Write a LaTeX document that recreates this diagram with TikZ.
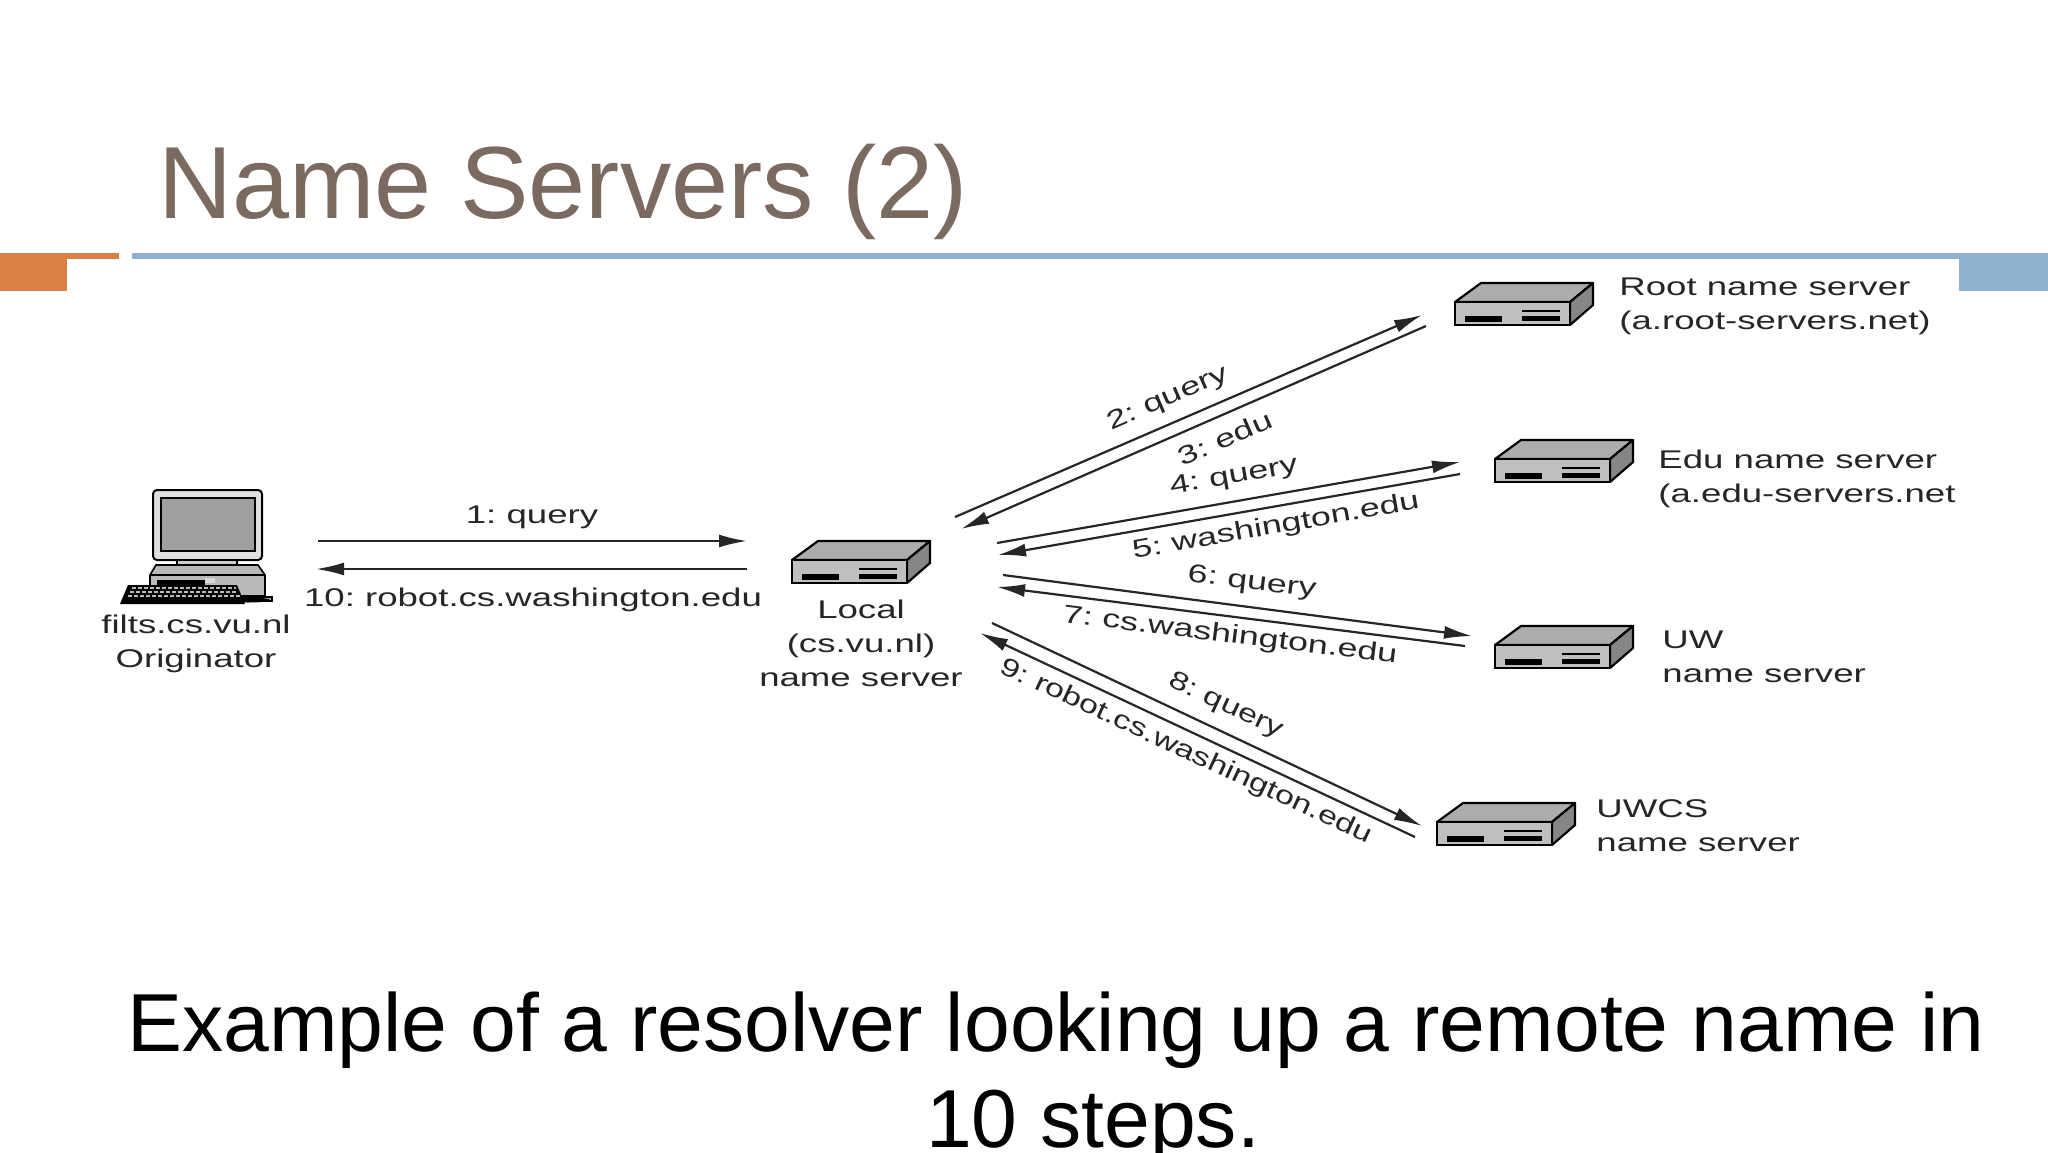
\documentclass[tikz,border=0pt]{standalone}
\usepackage{graphicx}
\usepackage{fontspec}
\setmainfont{Liberation Sans}
\usetikzlibrary{arrows.meta}
\definecolor{titlec}{HTML}{7B6A60}
\definecolor{orangeb}{HTML}{DB8148}
\definecolor{blueb}{HTML}{8FB1D0}
\definecolor{ink}{HTML}{262626}
\newcommand{\wideT}[1]{\scalebox{1.43}[1]{#1}}
\newcommand{\wideR}[1]{\scalebox{1.40}[1]{#1}}
\newcommand{\wideS}[1]{\scalebox{1.33}[1]{#1}}
\frenchspacing
\tikzset{
  server/.pic={
    \fill[gray!65!white,draw=black,line width=1.1pt,line join=round] (0,0) -- (26,-19) -- (138,-19) -- (115,0) -- cycle;
    \fill[gray!95!white,draw=black,line width=1.1pt,line join=round] (115,0) -- (138,-19) -- (138,3) -- (115,23) -- cycle;
    \fill[gray!50!white,draw=black,line width=1.4pt] (0,0) rectangle (115,23);
    \fill[black] (10,13.5) rectangle (47,19.5);
    \fill[black] (67,7.5) rectangle (105,10);
    \fill[black] (67,13.5) rectangle (105,18.5);
  },
  lbl/.style={font=\fontsize{12.8}{17}\selectfont,text=ink,inner sep=0pt,align=left},
  ctr/.style={font=\fontsize{12.8}{17}\selectfont,text=ink,inner sep=0pt,align=center},
  msg/.style={draw=ink,line width=1.1pt,-{Latex[length=14pt,width=6.5pt]}}
}
\begin{document}
\begin{tikzpicture}[x=0.5pt,y=-0.5pt]
\useasboundingbox (0,0) rectangle (2048,1152);
\clip (0,0) rectangle (2048,1152);
\fill[white] (0,0) rectangle (2048,1152);
% slide furniture
\fill[orangeb] (0,253) rectangle (119,259);
\fill[orangeb] (0,253) rectangle (67,291);
\fill[blueb] (132,253) rectangle (2048,259);
\fill[blueb] (1959,253) rectangle (2048,291);
\node[anchor=base west,inner sep=0pt,text=titlec,font=\fontsize{51.3}{60}\selectfont] (title) at (158,218) {Name Servers (2)};
\node[anchor=base,inner sep=0pt,text=black,font=\fontsize{41.15}{48}\selectfont] (body1) at (1056,1051) {Example of a resolver looking up a remote name in};
\node[anchor=base,inner sep=0pt,text=black,font=\fontsize{41.15}{48}\selectfont] (body2) at (1093,1147) {10 steps.};
% computer
\fill[gray!25!white,draw=black,line width=1pt,rounded corners=2pt] (153,490) rectangle (262,560);
\fill[gray!75!white,draw=black,line width=1.2pt] (161,498) rectangle (255,551);
\fill[gray!40!white,draw=black,line width=0.8pt] (177,560) rectangle (237,572);
\fill[gray!55!white,draw=black,line width=0.8pt] (150,575) -- (156,565) -- (258,565) -- (265,575) -- (265,596) -- (150,596) -- cycle;
\draw[black,line width=0.8pt] (150,575) -- (265,575);
\fill[black] (157,580) rectangle (205,585);
\fill[gray!30!white] (205,578) rectangle (215,583);
\fill[gray!70!white,draw=black,line width=0.6pt] (240,597) rectangle (272,601);
\fill[black] (248,600) ellipse (22 and 2.5);
\fill[black,line join=round] (128,585) -- (237,585) -- (245,604) -- (120,604) -- cycle;
\foreach \r/\a/\b in {588/132/236,592/130/238,596/128/240}
  \draw[gray!55!white,line width=1pt,dash pattern=on 2pt off 1pt] (\a,\r) -- (\b,\r);
% servers
\pic (local) at (792,560) {server};
\pic (root) at (1455,302) {server};
\pic (edu) at (1495,459) {server};
\pic (uw) at (1495,645) {server};
\pic (uwcs) at (1437,822) {server};
% end points
\coordinate (c1s) at (318,541); \coordinate (c1t) at (747,541);
\coordinate (c10s) at (747,569); \coordinate (c10t) at (316,569);
\coordinate (a2s) at (955,517); \coordinate (a2t) at (1422,315);
\coordinate (a3s) at (1426,326); \coordinate (a3t) at (961,529);
\coordinate (a4s) at (997,543); \coordinate (a4t) at (1460,462);
\coordinate (a5s) at (1460,474); \coordinate (a5t) at (998,555);
\coordinate (a6s) at (1003,575); \coordinate (a6t) at (1472,636);
\coordinate (a7s) at (1465,646); \coordinate (a7t) at (997,587);
\coordinate (a8s) at (992,623); \coordinate (a8t) at (1422,826);
\coordinate (a9s) at (1415,837); \coordinate (a9t) at (980,633);
\foreach \p in {c1,c10,a2,a3,a4,a5,a6,a7,a8,a9}
  \draw[msg] (\p s) -- (\p t);
% message labels
\node[ctr] (l1) at (532,517) {\wideT{1: query}};
\node[ctr] (l10) at (533,600) {\wideT{10: robot.cs.washington.edu}};
\node[ctr,rotate=23.5] (l2) at (1168,399) {\wideR{2: query}};
\node[ctr,rotate=23.5] (l3) at (1225,438) {\wideR{3: edu}};
\node[ctr,rotate=10] (l4) at (1234,477) {\wideR{4: query}};
\node[ctr,rotate=10] (l5) at (1276,527) {\wideR{5: washington.edu}};
\node[ctr,rotate=-7] (l6) at (1252,583) {\wideR{6: query}};
\node[ctr,rotate=-7] (l7) at (1230,636) {\wideR{7: cs.washington.edu}};
\node[ctr,rotate=-25] (l8) at (1226,706) {\wideS{8: query}};
\node[ctr,rotate=-25] (l9) at (1186,752) {\wideS{9: robot.cs.washington.edu}};
% node labels
\node[ctr] (pc) at (196,644) {\wideT{filts.cs.vu.nl}\\\wideT{Originator}};
\node[ctr] (localt) at (861,643) {\wideT{Local}\\\wideT{(cs.vu.nl)}\\\wideT{name server}};
\node[lbl,anchor=west] (roott) at (1619,306) {\wideT{Root name server}\\\wideT{(a.root-servers.net)}};
\node[lbl,anchor=west] (edut) at (1658,479) {\wideT{Edu name server}\\\wideT{(a.edu-servers.net}};
\node[lbl,anchor=west] (uwt) at (1662,657) {\wideT{UW}\\\wideT{name server}};
\node[lbl,anchor=west] (uwcst) at (1596,826) {\wideT{UWCS}\\\wideT{name server}};
\end{tikzpicture}
\end{document}
